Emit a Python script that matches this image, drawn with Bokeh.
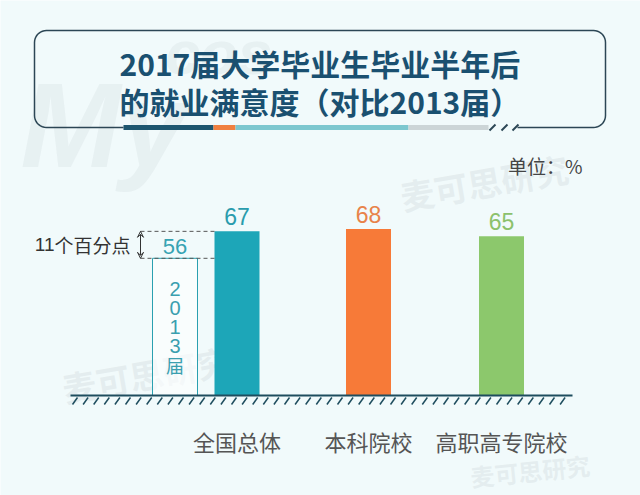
import numpy as np
from bokeh.plotting import figure
from bokeh.models import Range1d, Arrow, VeeHead
from bokeh.core.properties import value
from bokeh.embed import file_html
from bokeh.resources import INLINE

# ---------------- data ----------------
categories = ["全国总体", "本科院校", "高职高专院校"]
values_2017 = [67, 68, 65]
value_2013 = 56
label_2013 = ["2", "0", "1", "3", "届"]
diff_label = "11个百分点"
unit_label = "单位：%"
title_lines = ["2017届大学毕业生毕业半年后", "的就业满意度（对比2013届）"]
bar_colors = ["#1DA6B8", "#F77A38", "#8CC86C"]
label_colors = ["#2A9CAD", "#E8834A", "#8CC16C"]

# ---------------- layout ----------------
W, H = 640, 495
BASE_PX = 395          # pixel row of value 0
SCALE = 2.45           # pixels per percentage point
BG = "#F1FAFB"
CJK = value("Noto Sans CJK SC")
LAT = value("Liberation Sans")


def Y(py):
    """pixel row (from top) -> data y"""
    return (BASE_PX - py) / SCALE


p = figure(width=W, height=H, output_backend="svg", toolbar_location=None,
           x_range=Range1d(0, W), y_range=Range1d(Y(H), Y(0)),
           min_border=0, outline_line_color=None,
           background_fill_color=BG, border_fill_color=BG)
p.xaxis.visible = False
p.yaxis.visible = False
p.grid.visible = False

# ---------- faint watermarks ----------
p.text(x=[20], y=[Y(124)], text=["My"], text_font=LAT,
       text_font_style="bold italic", text_font_size="120px",
       text_color="#DDE7EA", text_alpha=0.5, text_baseline="alphabetic")
p.text(x=[165], y=[Y(52)], text=["cos"], text_font=LAT,
       text_font_style="bold italic", text_font_size="62px",
       text_color="#DDE7EA", text_alpha=0.5, text_baseline="alphabetic")
for (wx, wy, ang, fs) in [(400, 196, 0.17, "34px"), (62, 388, 0.17, "34px"),
                          (470, 476, 0.1, "24px")]:
    p.text(x=[wx], y=[Y(wy)], text=["麦可思研究"], text_font=CJK,
           text_font_style="bold", text_font_size=fs, angle=ang,
           text_color="#D5DEE1", text_alpha=0.45, text_baseline="alphabetic")

# ---------- title box ----------
L, R, T, B, RAD = 34, 605, 30, 127, 12
pts = []
pts.append((517, B))
th = np.linspace(np.pi / 2, 0, 10)
pts += [(R - RAD + RAD * np.cos(t), B - RAD + RAD * np.sin(t)) for t in th]
th = np.linspace(0, -np.pi / 2, 10)
pts += [(R - RAD + RAD * np.cos(t), T + RAD + RAD * np.sin(t)) for t in th]
th = np.linspace(-np.pi / 2, -np.pi, 10)
pts += [(L + RAD + RAD * np.cos(t), T + RAD + RAD * np.sin(t)) for t in th]
th = np.linspace(np.pi, np.pi / 2, 10)
pts += [(L + RAD + RAD * np.cos(t), B - RAD + RAD * np.sin(t)) for t in th]
pts.append((123, B))
p.line(x=[a for a, b in pts], y=[Y(b) for a, b in pts], line_color="#2C4655",
       line_width=1.5)

# decorative strip under the title
strip = [(123, 213, "#1D566F"), (213, 235, "#F08040"), (235, 408, "#7CC7CF"),
         (408, 488, "#CCD5D7")]
for x0, x1, c in strip:
    p.quad(left=[x0], right=[x1], top=[Y(124.5)], bottom=[Y(129.5)],
           fill_color=c, line_color=None)
for x0 in [489, 501, 512]:
    p.segment(x0=[x0], y0=[Y(130)], x1=[x0 + 6], y1=[Y(124)],
              line_color="#2C4655", line_width=2)

# title text
for i, t in enumerate(title_lines):
    p.text(x=[119], y=[Y(62 + i * 38)], text=[t], text_font=CJK,
           text_font_style="bold", text_font_size="30px", text_color="#1A5070",
           text_baseline="middle", text_align="left")

# unit label
p.text(x=[582], y=[Y(165)], text=[unit_label], text_font=CJK,
       text_font_size="19px", text_color="#444444", text_baseline="middle",
       text_align="right")

# ---------- bars ----------
centers = [236.5, 368, 501]
p.vbar(x=centers, top=values_2017, bottom=0, width=45,
       fill_color=bar_colors, line_color=None)
for cx, v, c in zip(centers, values_2017, label_colors):
    p.text(x=[cx], y=[v], y_offset=-6, text=[str(v)], text_font=LAT,
           text_font_size="23px", text_color=c, text_align="center",
           text_baseline="bottom")

# 2013 reference bar
cx13 = 174.5
p.vbar(x=[cx13], top=[value_2013], bottom=0, width=45, fill_color="#FFFFFF",
       fill_alpha=0.6, line_color="#2AA0B0", line_width=1)
p.text(x=[cx13], y=[value_2013], y_offset=-4, text=[str(value_2013)],
       text_font=LAT, text_font_size="22px",
       text_color="#36A3B3", text_align="center", text_baseline="bottom")
for k, ch in enumerate(label_2013):
    p.text(x=[cx13], y=[Y(288 + k * 19)], text=[ch],
           text_font=LAT if ch.isdigit() else CJK,
           text_font_size="20px" if ch.isdigit() else "18px",
           text_color="#3A9FAF", text_align="center", text_baseline="middle")

# difference marker
p.segment(x0=[140, 140], y0=[values_2017[0], value_2013],
          x1=[214, 214], y1=[values_2017[0], value_2013],
          line_color="#555555", line_width=1, line_dash="4 3")
p.add_layout(Arrow(x_start=140, y_start=value_2013, x_end=140, y_end=values_2017[0],
                   start=VeeHead(size=6, line_color="#333333", line_width=1, fill_color=None),
                   end=VeeHead(size=6, line_color="#333333", line_width=1, fill_color=None),
                   line_color="#333333", line_width=1))
p.text(x=[54], y=[(values_2017[0] + value_2013) / 2], text=["11"],
       text_font=LAT, text_font_size="19px", text_color="#333333",
       text_align="right", text_baseline="middle")
p.text(x=[54], y=[(values_2017[0] + value_2013) / 2], text=[diff_label[2:]],
       text_font=CJK, text_font_size="19px", text_color="#333333",
       text_align="left", text_baseline="middle")

# ---------- ground line with hatching ----------
p.segment(x0=[70], y0=[0], x1=[572], y1=[0], line_color="#1E4D5E", line_width=2)
hx = np.arange(72, 568, 10.6)
p.segment(x0=hx, y0=[Y(404)] * len(hx), x1=hx + 5, y1=[Y(397)] * len(hx),
          line_color="#1E4D5E", line_width=1.5)

# category labels
p.text(x=centers, y=[Y(440)] * 3, text=categories, text_font=CJK,
       text_font_size="22px", text_color="#555555", text_align="center",
       text_baseline="middle")

open("out.html", "w").write(file_html(p, INLINE))
